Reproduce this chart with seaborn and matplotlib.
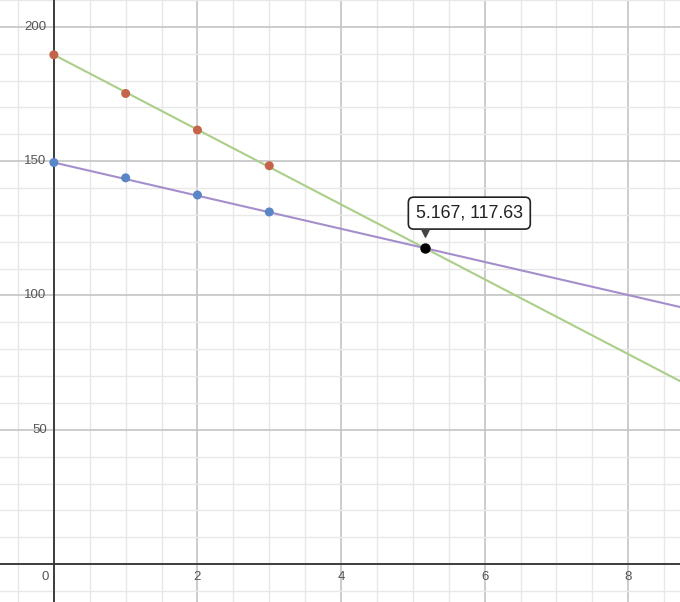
import numpy as np
import pandas as pd
import matplotlib
matplotlib.use("Agg")
import matplotlib.pyplot as plt
import seaborn as sns

# data
x_pts = [0, 1, 2, 3]
red_y = [189.6, 175.2, 161.6, 148.3]
blue_y = [149.5, 143.8, 137.4, 131.1]

green_b, green_m = 189.6, -13.93
purple_b, purple_m = 149.5, -6.168

inter_x, inter_y = 5.167, 117.63
inter_label = "5.167, 117.63"

x_ticks = [0, 2, 4, 6, 8]
y_ticks = [50, 100, 150, 200]

xmin, xmax = -0.75, 8.72
ymin, ymax = -14.1, 210.0

sns.set_style("white")
plt.rcParams['font.family'] = ['Liberation Sans', 'DejaVu Sans']

fig = plt.figure(figsize=(6.8, 6.02), dpi=100)
ax = fig.add_axes([0, 0, 1, 1])
ax.set_xlim(xmin, xmax)
ax.set_ylim(ymin, ymax)
for s in ax.spines.values():
    s.set_visible(False)
ax.set_xticks([])
ax.set_yticks([])

# grid
for gx in np.arange(-0.5, 9, 0.5):
    major = abs(gx % 2) < 1e-9
    ax.axvline(gx, color="#c4c4c4" if major else "#e8e8e8", lw=1.2 if major else 1.0, zorder=0)
for gy in np.arange(-10, 211, 10):
    major = abs(gy % 50) < 1e-9
    ax.axhline(gy, color="#c4c4c4" if major else "#e8e8e8", lw=1.2 if major else 1.0, zorder=0)
ax.axvline(0, color="#333333", lw=1.3, zorder=1)
ax.axhline(0, color="#333333", lw=1.3, zorder=1)

# lines (start at x=0)
xs = np.array([0, xmax])
lines = pd.DataFrame({
    "x": np.concatenate([xs, xs]),
    "y": np.concatenate([green_b + green_m * xs, purple_b + purple_m * xs]),
    "s": ["g", "g", "p", "p"],
})
sns.lineplot(data=lines, x="x", y="y", hue="s", palette={"g": "#a9cf88", "p": "#a48ecb"},
             lw=1.5, legend=False, ax=ax, zorder=2)

pts = pd.DataFrame({"x": x_pts + x_pts, "y": red_y + blue_y, "s": ["r"] * 4 + ["b"] * 4})
sns.scatterplot(data=pts, x="x", y="y", hue="s", palette={"r": "#c4654b", "b": "#5b86c6"},
                s=42, edgecolor="none", legend=False, ax=ax, zorder=3)

ax.scatter([inter_x], [inter_y], s=42, color="black", zorder=4)

# tooltip
ax.annotate(inter_label, xy=(inter_x, inter_y), xytext=(32, 25.2), textcoords="offset points",
            ha="center", va="center", fontsize=12.8, color="#222222",
            bbox=dict(boxstyle="round,pad=0.42,rounding_size=0.3", fc="white", ec="#222222", lw=1.2),
            zorder=5)
ax.scatter([inter_x], [inter_y + 5.5], marker="v", s=28, color="#444444", zorder=6)

# tick labels
for t in x_ticks:
    ax.text(t - 0.12 if t == 0 else t, -2.6, str(t), ha="center", va="top", fontsize=9.5, color="#555555")
for t in y_ticks:
    ax.text(-0.1, t, str(t), ha="right", va="center", fontsize=9.5, color="#555555")

ax.set_xlabel("")
ax.set_ylabel("")
fig.savefig("out.png", dpi=100)
